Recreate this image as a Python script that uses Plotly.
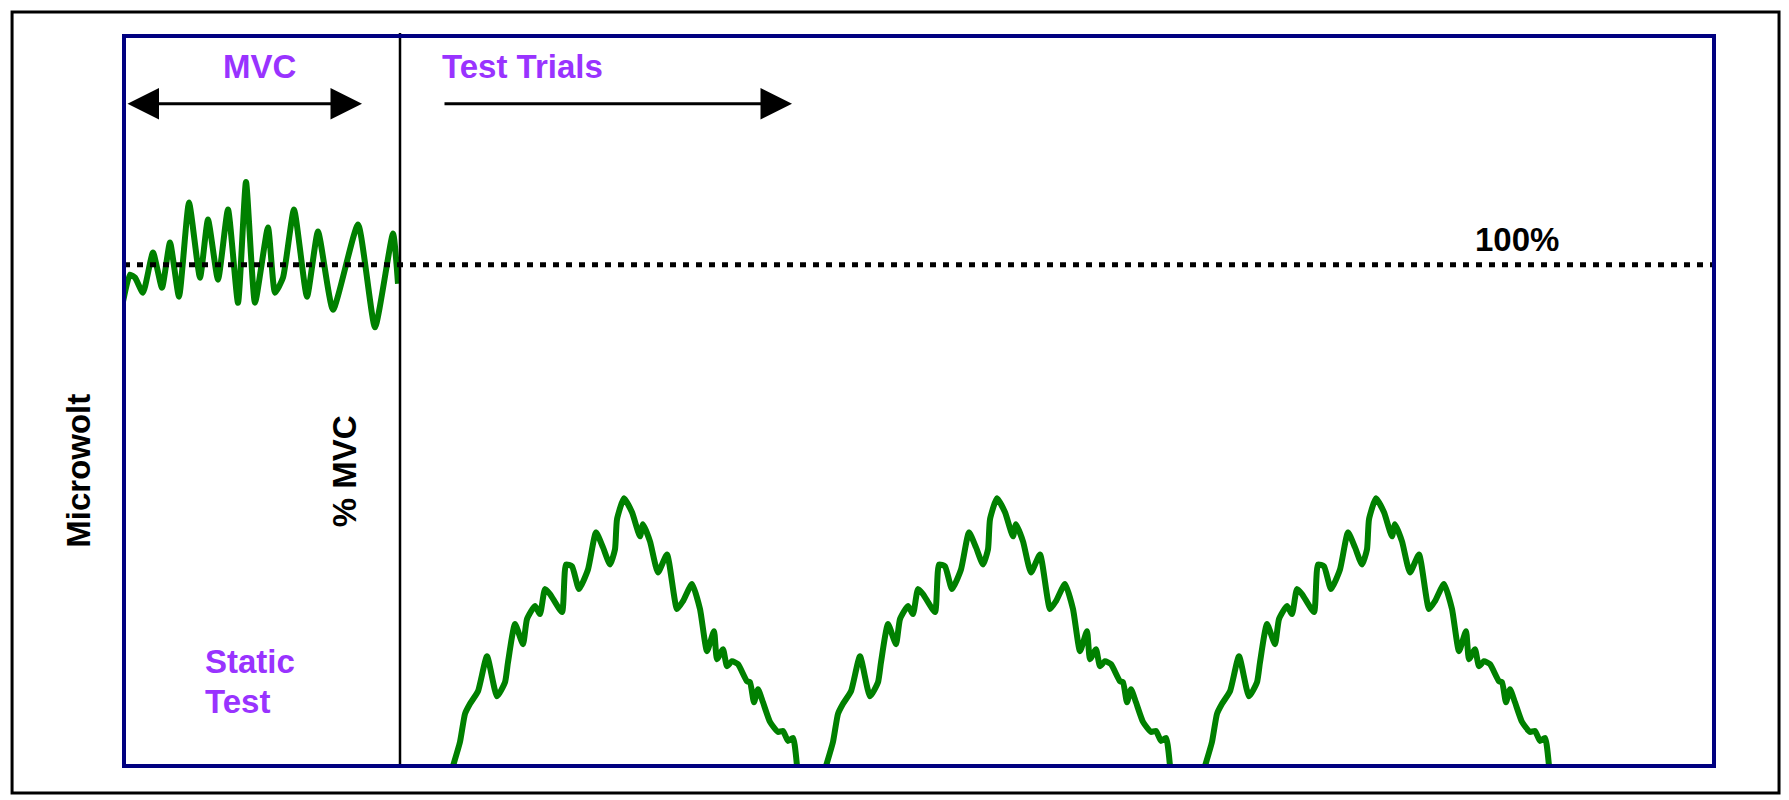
"""EMG schematic: MVC reference contraction followed by three test trials."""

import plotly.graph_objects as go

# MVC reference recording (time units, % of MVC)
mvc_time = [0, 7, 12, 20, 30, 39, 47, 56, 66, 77, 85, 95, 105, 115, 123, 132,
            145, 152, 160, 171, 184, 195, 210, 235, 252, 270, 275]
mvc_emg = [92.6, 98.0, 97.4, 94.4, 102.4, 95.4, 104.4, 93.6, 112.4, 97.4, 109.0,
           97.0, 111.0, 92.4, 116.5, 92.4, 107.4, 94.4, 97.4, 111.0, 93.6, 106.6,
           91.0, 108.0, 87.5, 106.2, 96.2]

# one test trial, time relative to its onset
trial_time = [0, 7, 12, 17, 25, 34, 44, 52, 55, 62, 70, 74, 82, 87, 92, 97, 109,
              113, 119, 126, 135, 143, 150, 157, 162, 164, 171, 179, 187, 190, 197,
              205, 214, 224, 230, 239, 247, 254, 261, 264, 270, 274, 279, 285, 294,
              297, 301, 305, 310, 317, 325, 330, 335, 340, 344]
trial_emg = [0, 4.8, 10.4, 12.4, 14.9, 21.9, 13.9, 16.7, 20.7, 28.3, 24.3, 29.3,
             31.9, 30.3, 35.3, 34.3, 30.7, 40.2, 39.8, 35.3, 39.2, 46.6, 43.6, 40.2,
             43.2, 49.2, 53.4, 50.6, 45.8, 48.2, 44.8, 38.6, 42.2, 31.3, 32.9, 36.3,
             31.3, 22.9, 26.9, 21.3, 23.3, 19.9, 20.9, 20.3, 16.9, 16.7, 12.7, 15.3,
             12.7, 8.8, 6.8, 7.0, 5.0, 5.6, 0]
trial_onsets = [330, 703, 1082]

mvc_end = 277
mvc_level = 100

GREEN = "#008000"
PURPLE = "#9933ff"
FONT = "Liberation Sans, Arial, sans-serif"

fig = go.Figure()
fig.add_trace(go.Scatter(x=mvc_time, y=mvc_emg, mode="lines",
                         line=dict(color=GREEN, width=6, shape="spline", smoothing=0.5),
                         hoverinfo="skip"))
for onset in trial_onsets:
    fig.add_trace(go.Scatter(x=[onset + t for t in trial_time], y=trial_emg, mode="lines",
                             line=dict(color=GREEN, width=6, shape="spline", smoothing=0.5),
                             hoverinfo="skip"))

# 100% line, MVC/test divider, plot border, outer frame
fig.add_shape(type="line", xref="paper", yref="y", x0=0, x1=1, y0=mvc_level, y1=mvc_level,
              line=dict(color="black", width=5, dash="6px,7px"))
fig.add_shape(type="line", xref="x", yref="paper", x0=mvc_end, x1=mvc_end, y0=0, y1=1.004,
              line=dict(color="black", width=2.5))
fig.add_shape(type="rect", xref="paper", yref="paper", x0=0, x1=1, y0=0, y1=1,
              line=dict(color="#000080", width=4))
fig.add_shape(type="rect", xref="paper", yref="paper", x0=-0.0704, x1=1.0409,
              y0=-0.037, y1=1.0329, line=dict(color="black", width=3))

# arrows
fig.add_annotation(x=239, y=132.1, ax=3, ay=132.1, axref="x", ayref="y", text="",
                   showarrow=True, arrowhead=2, startarrowhead=2, arrowside="end+start",
                   arrowwidth=3, arrowsize=2.1, startarrowsize=2.1, arrowcolor="black")
fig.add_annotation(x=669, y=132.1, ax=320, ay=132.1, axref="x", ayref="y", text="",
                   showarrow=True, arrowhead=2, arrowwidth=3, arrowsize=2.1,
                   arrowcolor="black")

labels = [
    ("MVC", 136, 139.5, 0, PURPLE, "center"),
    ("Test Trials", 399, 139.6, 0, PURPLE, "center"),
    ("100%", 1394, 105.0, 0, "black", "center"),
    ("% MVC", 221, 58.8, -90, "black", "center"),
    ("Static", 80, 20.9, 0, PURPLE, "left"),
    ("Test", 80, 12.9, 0, PURPLE, "left"),
]
for text, x, y, angle, color, anchor in labels:
    fig.add_annotation(x=x, y=y, text=f"<b>{text}</b>", showarrow=False, textangle=angle,
                       xanchor=anchor, yanchor="middle",
                       font=dict(family=FONT, size=33, color=color))
# y-axis label sits left of the plot, so place it in paper coordinates
fig.add_annotation(x=-0.0286, xref="paper", y=58.8, text="<b>Microwolt</b>",
                   showarrow=False, textangle=-90, xanchor="center", yanchor="middle",
                   font=dict(family=FONT, size=33, color="black"))

fig.update_xaxes(range=[1, 1591], visible=False)
fig.update_yaxes(range=[0, 145.6], visible=False)
# page body adds an 8px margin, so the figure is 8px smaller and shifted up/left
fig.update_layout(
    width=1781, height=792, showlegend=False,
    paper_bgcolor="white", plot_bgcolor="white",
    margin=dict(l=116, r=75, t=28, b=34),
)
fig.write_html("out.html")
